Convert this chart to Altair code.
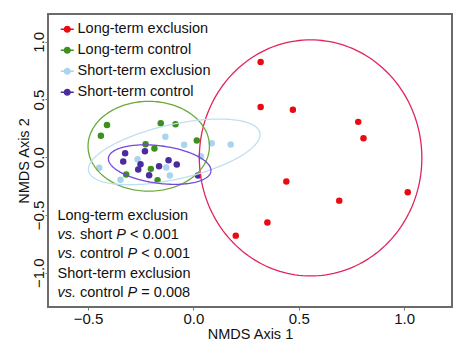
import altair as alt
import numpy as np
import pandas as pd

groups = ["Long-term exclusion", "Long-term control", "Short-term exclusion", "Short-term control"]

lt_excl_x = [0.319, 0.319, 0.472, 0.782, 0.807, 0.441, 0.692, 1.017, 0.351, 0.201]
lt_excl_y = [0.824, 0.434, 0.410, 0.306, 0.165, -0.211, -0.376, -0.303, -0.566, -0.679]
lt_ctrl_x = [-0.410, -0.439, -0.155, -0.085, 0.016, -0.227, -0.185, -0.319, -0.202, -0.170]
lt_ctrl_y = [0.278, 0.186, 0.295, 0.286, 0.144, 0.113, 0.075, -0.150, -0.101, -0.199]
st_excl_x = [-0.447, -0.346, -0.265, -0.133, -0.044, 0.087, 0.177, 0.035, -0.129, -0.112]
st_excl_y = [-0.092, -0.196, -0.017, 0.177, 0.108, 0.121, 0.110, 0.009, -0.089, -0.159]
st_ctrl_x = [-0.324, -0.230, -0.333, -0.251, -0.262, -0.210, -0.163, -0.118, -0.079, 0.022]
st_ctrl_y = [0.035, 0.052, -0.037, -0.061, -0.107, -0.156, -0.078, -0.026, -0.063, -0.159]

# ellipse parameters: centre, first semi-axis vector, second semi-axis vector (data units)
ell_cx = [0.556, -0.212, -0.091, -0.160]
ell_cy = [-0.006, 0.095, 0.046, -0.064]
ell_ax = [0.528, 0.288, 0.406, 0.243]
ell_ay = [0.0, 0.0, 0.166, -0.058]
ell_bx = [0.0, 0.0, -0.028, 0.011]
ell_by = [1.022, 0.389, 0.231, 0.161]

x_ticks = [-0.5, 0.0, 0.5, 1.0]
y_ticks = [-1.0, -0.5, 0.0, 0.5, 1.0]
x_domain = [-0.69, 1.227]
y_domain = [-1.297, 1.24]

annot_lines = [
    [("Long-term exclusion", False)],
    [("vs.", True), ("short", False), ("P", True), ("< 0.001", False)],
    [("vs.", True), ("control", False), ("P", True), ("< 0.001", False)],
    [("Short-term exclusion", False)],
    [("vs.", True), ("control", False), ("P", True), ("= 0.008", False)],
]
annot_y = [-0.505, -0.672, -0.838, -1.012, -1.178]
annot_x0 = -0.645

pt_colors = ["#ea0a12", "#3d8f1e", "#a9d4ef", "#4b2b9f"]
ell_colors = ["#e2245a", "#6aab3c", "#bfe0f1", "#7447dd"]

FONT = "Liberation Sans"
W, H = 404, 293
FS = 14.5

# ---- tables ----
xs = [lt_excl_x, lt_ctrl_x, st_excl_x, st_ctrl_x]
ys = [lt_excl_y, lt_ctrl_y, st_excl_y, st_ctrl_y]
rows = []
for g, gx, gy in zip(groups, xs, ys):
    for a, b in zip(gx, gy):
        rows.append({"group": g, "x": a, "y": b})
pts = pd.DataFrame(rows)

t = np.linspace(0, 2 * np.pi, 181)
erows = []
for i, g in enumerate(groups):
    ex = ell_cx[i] + ell_ax[i] * np.cos(t) + ell_bx[i] * np.sin(t)
    ey = ell_cy[i] + ell_ay[i] * np.cos(t) + ell_by[i] * np.sin(t)
    for k, (a, b) in enumerate(zip(ex, ey)):
        erows.append({"egroup": g, "x": a, "y": b, "k": k})
ell = pd.DataFrame(erows)

# Arial / Liberation Sans advance widths (per 1000 em)
cw = {" ": 278, "<": 584, "=": 584, ".": 278, "v": 500, "s": 500, "h": 556, "o": 556,
      "r": 333, "t": 278, "c": 500, "n": 556, "l": 222, "P": 667}
for d in "0123456789":
    cw[d] = 556
px_per_unit = W / (x_domain[1] - x_domain[0])

arows = []
for li, line in enumerate(annot_lines):
    off = 0.0
    for seg, ital in line:
        arows.append({"text": seg, "italic": ital, "x": annot_x0 + off / px_per_unit, "y": annot_y[li]})
        off += sum(cw.get(ch, 556) for ch in seg) * FS / 1000 + cw[" "] * FS / 1000
ann = pd.DataFrame(arows)

xs_ = alt.Scale(domain=x_domain, nice=False, zero=False)
ys_ = alt.Scale(domain=y_domain, nice=False, zero=False)
cscale = alt.Scale(domain=groups, range=pt_colors)

# legend glyph: a short horizontal bar with a dot on it (both filled shapes)
LEG_SYMBOL = ("M-1,-0.12H1V0.12H-1Z"
              "M-0.55,0A0.55,0.55,0,1,1,0.55,0A0.55,0.55,0,1,1,-0.55,0Z")

leg = alt.Legend(
    title=None, orient="none", legendX=12, legendY=8,
    symbolType=LEG_SYMBOL,
    symbolSize=169, symbolStrokeWidth=0, symbolOpacity=1,
    labelFont=FONT, labelFontSize=FS, labelFontWeight="normal", labelColor="#111", labelOffset=3,
    rowPadding=6, padding=0,
)

points = alt.Chart(pts).mark_point(filled=True, size=42, opacity=1, strokeWidth=0).encode(
    x=alt.X("x:Q", scale=xs_, axis=alt.Axis(values=x_ticks, format=".1f", title="NMDS Axis 1")),
    y=alt.Y("y:Q", scale=ys_, axis=alt.Axis(values=y_ticks, format=".1f", title="NMDS Axis 2",
                                              labelAngle=270, labelAlign="center",
                                              labelBaseline="alphabetic")),
    fill=alt.Fill("group:N", scale=cscale, legend=leg, sort=groups),
)

ellipses = alt.Chart(ell).mark_line(strokeWidth=1.3).encode(
    x=alt.X("x:Q", scale=xs_),
    y=alt.Y("y:Q", scale=ys_),
    detail="egroup:N",
    order="k:Q",
    stroke=alt.Stroke("egroup:N", scale=alt.Scale(domain=groups, range=ell_colors), legend=None),
)

txt_norm = alt.Chart(ann).transform_filter("!datum.italic").mark_text(
    align="left", baseline="middle", font=FONT, fontSize=FS, color="#111"
).encode(x=alt.X("x:Q", scale=xs_), y=alt.Y("y:Q", scale=ys_), text="text:N")

txt_ital = alt.Chart(ann).transform_filter("datum.italic").mark_text(
    align="left", baseline="middle", font=FONT, fontSize=FS, fontStyle="italic", color="#111"
).encode(x=alt.X("x:Q", scale=xs_), y=alt.Y("y:Q", scale=ys_), text="text:N")

chart = alt.layer(points, ellipses, txt_norm, txt_ital).properties(
    width=W, height=H,
    autosize=alt.AutoSizeParams(type="none"),
    padding={"left": 40, "top": 6, "right": 14, "bottom": 42},
).configure_view(
    stroke="#6b6b6b", strokeWidth=2
).configure_axis(
    domain=False, grid=False, tickColor="#777", tickSize=3,
    labelFont=FONT, labelFontSize=15, labelColor="#111", labelPadding=2,
    titleFont=FONT, titleFontSize=FS, titleFontWeight="normal", titleColor="#111",
).configure_axisX(titlePadding=1, labelPadding=1).configure_axisY(titlePadding=0)

chart.save("out.html", embed_options={"renderer": "svg", "actions": False})
